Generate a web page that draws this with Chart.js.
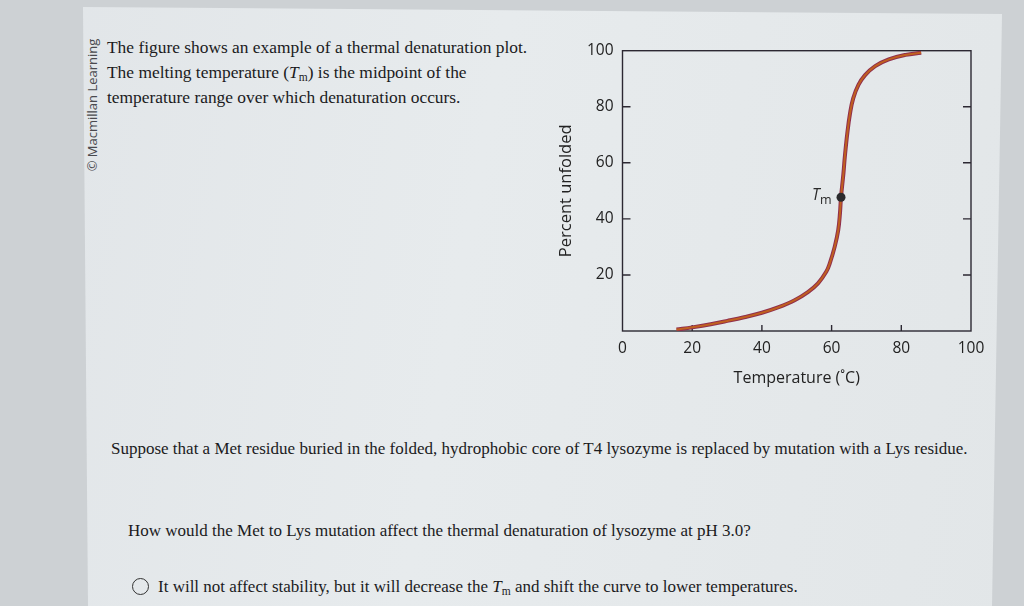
<!DOCTYPE html>
<html>
<head>
<meta charset="utf-8">
<script src="https://cdn.jsdelivr.net/npm/chart.js@4.4.1/dist/chart.umd.min.js"></script>
<style>
  html, body { margin: 0; padding: 0; }
  body {
    width: 1024px; height: 606px; overflow: hidden; position: relative;
    background: #cdd1d4;
    font-family: "Liberation Serif", serif; color: #1b1b1d;
  }
  #panel {
    position: absolute; left: 0; top: 0; width: 1024px; height: 606px;
    background: linear-gradient(100deg, #e1e5e8 0%, #e7ebed 45%, #e2e6e8 100%);
    clip-path: polygon(83px 7px, 1002px 14px, 992px 606px, 88px 606px);
  }
  .t { position: absolute; white-space: nowrap; font-size: 17px; line-height: 1; }
  .t sub { font-size: 11.5px; vertical-align: -3px; line-height: 0; }
  #credit {
    position: absolute; left: 92px; top: 105px; white-space: nowrap;
    font: 13px "Open Sans", sans-serif; color: #4a4a4e;
    transform: translate(-50%, -50%) rotate(-90deg);
  }
  #radio {
    position: absolute; left: 132px; top: 578px; width: 17px; height: 17px;
    border: 1.6px solid #333; border-radius: 50%; box-sizing: border-box;
  }
  #wrap { position: absolute; left: 540px; top: 20px; width: 460px; height: 380px; }
</style>
</head>
<body>
<div id="panel"></div>
<div id="credit">© Macmillan Learning</div>
<div class="t" style="left:107px; top:39px; font-size:17.4px;">The figure shows an example of a thermal denaturation plot.</div>
<div class="t" style="left:107px; top:64px; font-size:17.4px;">The melting temperature (<i>T</i><sub>m</sub>) is the midpoint of the</div>
<div class="t" style="left:107px; top:89px; font-size:17.4px;">temperature range over which denaturation occurs.</div>
<div class="t" style="left:111px; top:440px;">Suppose that a Met residue buried in the folded, hydrophobic core of T4 lysozyme is replaced by mutation with a Lys residue.</div>
<div class="t" style="left:128px; top:522px;">How would the Met to Lys mutation affect the thermal denaturation of lysozyme at pH 3.0?</div>
<div id="radio"></div>
<div class="t" style="left:158px; top:578px;">It will not affect stability, but it will decrease the <i>T</i><sub>m</sub> and shift the curve to lower temperatures.</div>
<div id="wrap"><canvas id="myChart" width="460" height="380"></canvas></div>
<script>
'use strict';

// values
const temperature = [15.5, 20, 25.3, 30.1, 34.9, 40, 44.6, 49.4, 53.2, 56.1, 58.5, 59.5, 60.9, 61.9, 62.4, 62.7, 63.4, 63.8, 64.5, 65.3, 66.2, 67.7, 69.6, 72.5, 76.4, 81.2, 85.7];
const percentUnfolded = [0.5, 1.3, 2.4, 3.6, 4.9, 6.5, 8.4, 11, 13.9, 17, 21.2, 24.2, 30.1, 36, 42, 47.7, 56.3, 62.2, 70.5, 77.7, 83, 87.8, 91.3, 94.5, 96.9, 98.5, 99.3];
const tmTemperature = [62.7];
const tmPercent = [47.7];
const xTickValues = [0, 20, 40, 60, 80, 100];
const yTickValues = [20, 40, 60, 80, 100];
const innerTickValues = [20, 40, 60, 80];

const curve = temperature.map((t, i) => ({ x: t, y: percentUnfolded[i] }));
const tm = tmTemperature.map((t, i) => ({ x: t, y: tmPercent[i] }));

const frame = {
	id: 'frame',
	beforeDatasetsDraw(chart) {
		const { ctx, chartArea: { left, top, right, bottom }, scales: { x, y } } = chart;
		ctx.save();
		ctx.strokeStyle = '#2c2832';
		ctx.lineWidth = 1.4;
		ctx.strokeRect(left, top, right - left, bottom - top);
		ctx.beginPath();
		innerTickValues.forEach(v => {
			const py = y.getPixelForValue(v);
			ctx.moveTo(left, py); ctx.lineTo(left + 8, py);
			ctx.moveTo(right, py); ctx.lineTo(right - 8, py);
			const px = x.getPixelForValue(v);
			ctx.moveTo(px, bottom); ctx.lineTo(px, bottom - 6);
		});
		ctx.stroke();
		ctx.restore();
	},
	afterDatasetsDraw(chart) {
		const { ctx, scales: { x, y } } = chart;
		const px = x.getPixelForValue(tmTemperature[0]);
		const py = y.getPixelForValue(tmPercent[0]);
		ctx.save();
		ctx.fillStyle = '#2a2a2a';
		ctx.textBaseline = 'alphabetic';
		ctx.textAlign = 'left';
		ctx.font = 'italic 15.5px "Open Sans", sans-serif';
		ctx.fillText('T', px - 29, py + 3);
		ctx.font = '12.5px "Open Sans", sans-serif';
		ctx.fillText('m', px - 21, py + 7);
		ctx.restore();
	},
};

const axisFont = { family: '"Open Sans", sans-serif', size: 15.5 };
const yTitleFont = { family: '"Open Sans", sans-serif', size: 16.5 };
const xTitleFont = { family: '"Open Sans", sans-serif', size: 16 };

const ctx = document.getElementById('myChart').getContext('2d');

const myChart = new Chart(ctx, {
	type: 'line',
	data: {
		datasets: [
			{
				data: tm,
				showLine: false,
				pointRadius: 4.5,
				pointBackgroundColor: '#2b2b2d',
				pointBorderWidth: 0,
				order: 0,
			},
			{
				data: curve,
				borderColor: '#c0601f',
				borderWidth: 2,
				pointRadius: 0,
				tension: 0.4,
				order: 1,
			},
			{
				data: curve,
				borderColor: '#902f4c',
				borderWidth: 4,
				pointRadius: 0,
				tension: 0.4,
				order: 2,
			},
		],
	},
	options: {
		responsive: false,
		animation: false,
		layout: { padding: { left: 9, right: 29, top: 30.7, bottom: 8 } },
		plugins: {
			legend: { display: false },
			tooltip: { enabled: false },
		},
		scales: {
			x: {
				type: 'linear',
				min: 0,
				max: 100,
				afterBuildTicks: s => { s.ticks = xTickValues.map(v => ({ value: v })); },
				afterFit: s => { s.height = 61; },
				grid: { display: false, drawTicks: false },
				border: { display: false },
				ticks: { font: axisFont, color: '#222', padding: 8 },
				title: {
					display: true,
					text: 'Temperature (˚C)',
					font: xTitleFont,
					color: '#222',
					padding: { top: 0, bottom: 4 },
				},
			},
			y: {
				type: 'linear',
				min: 0,
				max: 100,
				afterBuildTicks: s => { s.ticks = yTickValues.map(v => ({ value: v })); },
				afterFit: s => { s.width = 73.5; },
				grid: { display: false, drawTicks: false },
				border: { display: false },
				ticks: { font: axisFont, color: '#222', padding: 9 },
				title: {
					display: true,
					text: 'Percent unfolded',
					font: yTitleFont,
					color: '#222',
					padding: { top: 7, bottom: 0 },
				},
			},
		},
	},
	plugins: [frame],
});
</script>
</body>
</html>
